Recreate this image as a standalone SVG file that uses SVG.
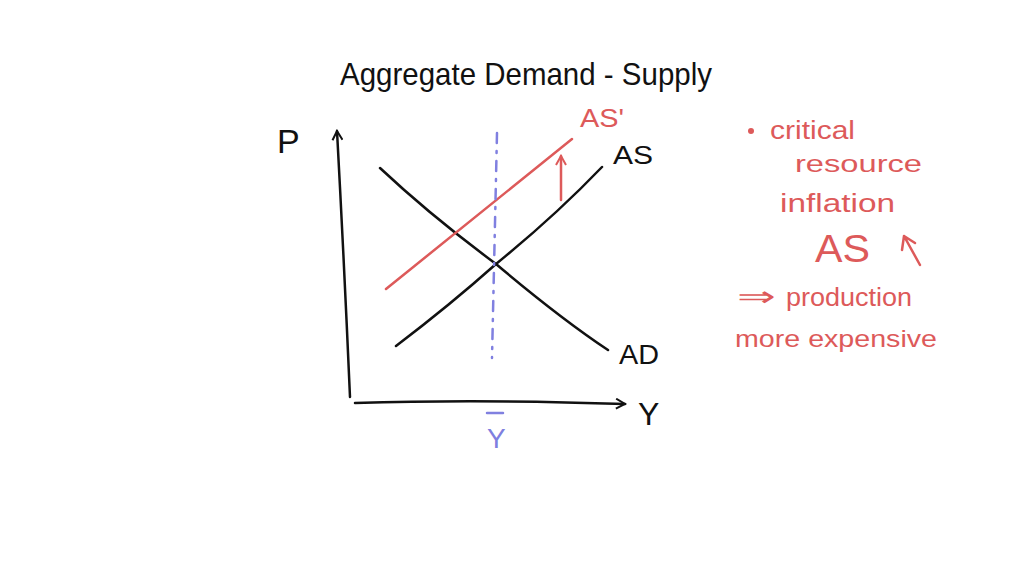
<svg xmlns="http://www.w3.org/2000/svg" width="1024" height="576" viewBox="0 0 1024 576">
<style>
text{font-family:"Liberation Sans",Arial,sans-serif}
.k{fill:#111}
.r{fill:#dd5a5a}
.b{fill:#7f7fe0}
.ln{fill:none;stroke-linecap:round;stroke-linejoin:round}
</style>
<defs>
<marker id="ak" viewBox="0 0 12 12" refX="10" refY="6" markerWidth="12" markerHeight="12" markerUnits="userSpaceOnUse" orient="auto"><path d="M1,1 L10,6 L1,11" fill="none" stroke="#111" stroke-width="2"/></marker>
<marker id="ar" viewBox="0 0 12 12" refX="10" refY="6" markerWidth="12" markerHeight="12" markerUnits="userSpaceOnUse" orient="auto"><path d="M1,1 L10,6 L1,11" fill="none" stroke="#dd5a5a" stroke-width="2"/></marker>
</defs>
<rect width="1024" height="576" fill="#fff"/>
<g id="title"><text x="340" y="85" font-size="32" class="k" textLength="372" lengthAdjust="spacingAndGlyphs">Aggregate Demand - Supply</text></g>
<g id="connectors">
<path class="ln" d="M350,397 Q344,260 337,131" stroke="#111" stroke-width="2.5" marker-end="url(#ak)"/>
<path class="ln" d="M355,403 Q480,399 625,404" stroke="#111" stroke-width="2.5" marker-end="url(#ak)"/>
<path class="ln" d="M380,168 Q430,215 496,264 Q560,318 608,350" stroke="#111" stroke-width="2.5"/>
<path class="ln" d="M396,346 Q450,305 496,264 Q555,216 602,167" stroke="#111" stroke-width="2.5"/>
<path class="ln" d="M386,289 L572,139" stroke="#dd5a5a" stroke-width="2.5"/>
<path class="ln" d="M561,200 L561,156" stroke="#dd5a5a" stroke-width="2.5" marker-end="url(#ar)"/>
<path class="ln" d="M497,133 L492,358" stroke="#8080e0" stroke-width="2.5" stroke-dasharray="10,8,2,8"/>
</g>
<g id="labels">
<text x="277" y="153" font-size="34" class="k">P</text>
<text x="580" y="127" font-size="26" class="r" textLength="44" lengthAdjust="spacingAndGlyphs">AS'</text>
<text x="613" y="164" font-size="26" class="k" textLength="40" lengthAdjust="spacingAndGlyphs">AS</text>
<text x="619" y="364" font-size="28" class="k" textLength="40" lengthAdjust="spacingAndGlyphs">AD</text>
<text x="638" y="425" font-size="32" class="k">Y</text>
<text x="487" y="448" font-size="28" class="b">Y</text>
<path d="M487,413 L503,413" stroke="#8080e0" stroke-width="2.5" class="ln"/>
</g>
<g id="notes">
<circle cx="751" cy="131" r="3" fill="#dd5a5a"/>
<text x="770" y="139" font-size="26" class="r" textLength="85" lengthAdjust="spacingAndGlyphs">critical</text>
<text x="795" y="172" font-size="24" class="r" textLength="127" lengthAdjust="spacingAndGlyphs">resource</text>
<text x="780" y="212" font-size="26" class="r" textLength="115" lengthAdjust="spacingAndGlyphs">inflation</text>
<text x="815" y="262" font-size="38" class="r" textLength="55" lengthAdjust="spacingAndGlyphs">AS</text>
<path class="ln" d="M920,265 L904,236 M904,236 L902,250 M904,236 L915,243" stroke="#dd5a5a" stroke-width="2.5"/>
<text x="737" y="306" font-size="28" class="r" textLength="38" lengthAdjust="spacingAndGlyphs">⇒</text>
<text x="786" y="306" font-size="26" class="r" textLength="126" lengthAdjust="spacingAndGlyphs">production</text>
<text x="735" y="347" font-size="24" class="r" textLength="202" lengthAdjust="spacingAndGlyphs">more expensive</text>
</g>
</svg>
